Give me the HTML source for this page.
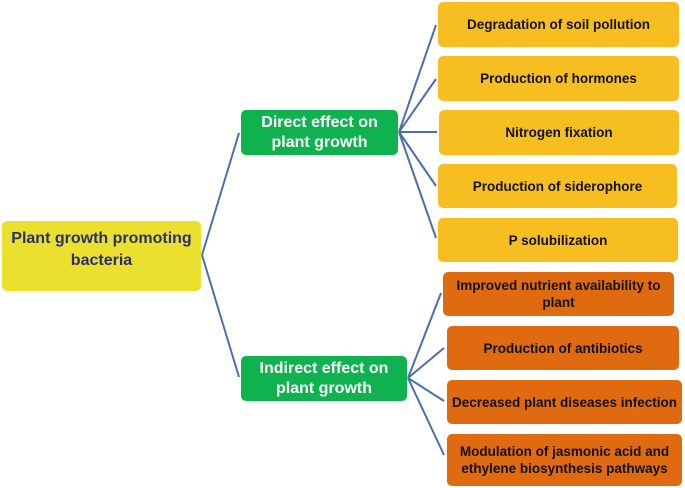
<!DOCTYPE html>
<html><head><style>
body{margin:0;width:685px;height:488px;background:#fff;position:relative;overflow:hidden;font-family:"Liberation Sans",sans-serif;font-weight:bold}
.b{position:absolute;display:flex;align-items:center;justify-content:center;text-align:center;border-radius:5px;box-sizing:border-box;line-height:17px}
.y{background:#f7be22;color:#111;font-size:13.5px}
.o{background:#e06a10;color:#111;font-size:13.5px}
.g{background:#10b14f;color:#fff;font-size:16px;line-height:20px}
</style></head><body>
<svg width="685" height="488" style="position:absolute;left:0;top:0" fill="none" stroke="#4a6fae" stroke-width="2">
<path d="M202 255L239 133M202 255L239 377"/>
<path d="M399 132L436 25M399 132L436 79M399 132L437 132M399 132L436 186M399 132L436 238"/>
<path d="M408 378L441 293M408 378L444 348M408 378L444 401M408 378L444 455"/>
</svg>
<div class="b" style="left:2px;top:221px;width:199px;height:70px;background:#ebe02e;color:#2b2f6e;font-size:16px;line-height:22px;padding-bottom:12px">Plant growth promoting<br>bacteria</div>
<div class="b g" style="left:241px;top:110px;width:157px;height:45px">Direct effect on<br>plant growth</div>
<div class="b g" style="left:241px;top:356px;width:166px;height:45px">Indirect effect on<br>plant growth</div>
<div class="b y" style="left:438px;top:2px;width:241px;height:45px">Degradation of soil pollution</div>
<div class="b y" style="left:438px;top:56px;width:241px;height:45px">Production of hormones</div>
<div class="b y" style="left:439px;top:110px;width:240px;height:45px">Nitrogen fixation</div>
<div class="b y" style="left:438px;top:164px;width:239px;height:44px">Production of siderophore</div>
<div class="b y" style="left:438px;top:218px;width:240px;height:44px">P solubilization</div>
<div class="b o" style="left:443px;top:272px;width:231px;height:44px">Improved nutrient availability to<br>plant</div>
<div class="b o" style="left:447px;top:326px;width:232px;height:44px">Production of antibiotics</div>
<div class="b o" style="left:447px;top:380px;width:235px;height:44px">Decreased plant diseases infection</div>
<div class="b o" style="left:447px;top:434px;width:235px;height:52px">Modulation of jasmonic acid and<br>ethylene biosynthesis pathways</div>
</body></html>
